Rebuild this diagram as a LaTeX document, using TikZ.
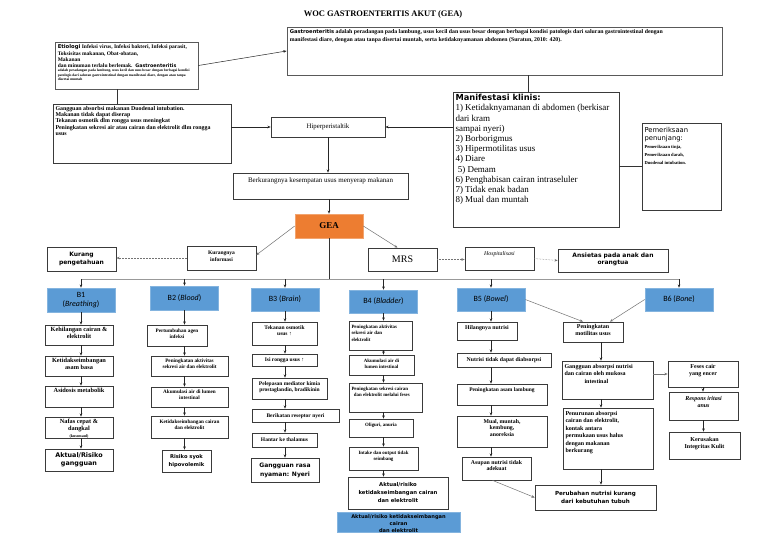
\documentclass[tikz,border=0pt]{standalone}
\usepackage{fontspec}
\setmainfont{Liberation Serif}
\setsansfont{Carlito}
\newfontfamily\dvs{DejaVu Sans}
\usetikzlibrary{arrows.meta}
\definecolor{geaor}{HTML}{ED7D31}
\definecolor{bblue}{HTML}{5B9BD5}
\definecolor{bdr}{HTML}{3A3A3A}
\newcommand{\fs}[2]{\fontsize{#1}{#2}\selectfont}
\newcommand{\tbx}[4]{\parbox[c][#2][t]{#1}{\centering\rule{0pt}{#3}#4\par}}
\newcommand{\tbl}[4]{\parbox[c][#2][t]{#1}{\raggedright\leftskip=2.5pt\rule{0pt}{#3}#4\par}}
\tikzset{
  bx/.style={draw=bdr, line width=0.7pt, fill=white, inner sep=0pt, align=center, font=\bfseries\fs{5.5}{6.5}},
  c1/.style={bx, font=\bfseries\fs{6.3}{6.8}},
  c2/.style={bx, font=\bfseries\fs{5.2}{6.3}},
  c3/.style={bx, font=\bfseries\fs{5.5}{6.5}},
  c4/.style={bx, font=\bfseries\fs{4.9}{6.6}},
  c5/.style={bx, font=\bfseries\fs{5.8}{6.8}},
  c6/.style={bx, font=\bfseries\fs{6}{7.4}},
  sb/.style={bx, font=\dvs\bfseries\fs{6}{7.4}},
  bl/.style={fill=bblue, draw=bblue!75!white, line width=0.6pt, inner sep=0pt, align=center, font=\sffamily\fs{8}{9.5}, minimum width=68pt, minimum height=23pt},
  ar/.style={-{Stealth[length=3.2pt,width=2.6pt]}, line width=0.5pt, draw=black!85},
  arg/.style={-{Stealth[length=3.2pt,width=2.6pt]}, line width=0.5pt, draw=black!55},
  ard/.style={arg, densely dotted},
  ln/.style={line width=0.6pt, draw=black!80},
}
\begin{document}
\begin{tikzpicture}[x=1pt,y=-1pt]
\fill[white] (0,0) rectangle (768,543);
\useasboundingbox (0,0) rectangle (768,543);

\node[inner sep=0pt, font=\bfseries\fs{8.5}{10}] (title) at (383,14) {WOC GASTROENTERITIS AKUT (GEA)};

% etiologi
\node[bx, minimum width=143pt, minimum height=47pt, line width=0.9pt, draw=black!65] (etio) at (126.5,65.5) {};
\begin{scope}
\clip (etio.north west) rectangle (etio.south east);
\node[anchor=north west, inner sep=0pt, font=\bfseries\fs{5.5}{6.3}] (etiot) at ([shift={(3pt,-3pt)}]etio.north west) {\parbox{137pt}{\raggedright{\dvs\fs{5.3}{6.3}Etiologi} Infeksi virus, Infeksi bakteri, Infeksi parasit, Toksisitas makanan, Obat-obatan,\\ Makanan\\ dan minuman terlalu berlemak.\ \ {\dvs\fs{4.8}{6.3}Gastroenteritis}\par {\fs{3.6}{4.3}adalah peradangan pada lambung, usus kecil dan usus besar dengan berbagai kondisi patologis dari saluran gastrointestinal dengan manifestasi diare, dengan atau tanpa disertai muntah\par}}};
\end{scope}

% top definition box
\node[bx, minimum width=435pt, minimum height=48pt, line width=0.9pt, draw=black!65] (top) at (504.5,51) {};
\node[anchor=north west, inner sep=0pt, font=\bfseries\fs{5.8}{7.6}] (topt) at ([shift={(3pt,-3pt)}]top.north west) {\parbox{429pt}{\raggedright{\dvs\fs{5.2}{7.6}Gastroenteritis} adalah peradangan pada lambung, usus kecil dan usus besar dengan berbagai kondisi patologis dari saluran gastrointestinal dengan\\ manifestasi diare, dengan atau tanpa disertai muntah, serta ketidaknyamanan abdomen (Suratun, 2010: 420).}};

% left patho box
\node[bx, font=\bfseries\fs{5.9}{6.2}] (left) at (142,133.5) {\tbl{178pt}{59pt}{6.5pt}{Gangguan absorbsi makanan Duodenal intubation.\\ Makanan tidak dapat diserap\\ Tekanan osmotik dlm rongga usus meningkat\\ Peningkatan sekresi air atau cairan dan elektrolit dlm rongga\\ usus}};

\node[bx, minimum width=114pt, minimum height=20pt, font=\fs{6.8}{8}] (hiper) at (328,127) {Hiperperistaltik};
\node[bx, font=\fs{7}{8}] (berk) at (320.5,186) {\tbx{175pt}{26pt}{9pt}{Berkurangnya kesempatan usus menyerap makanan}};

% manifestasi
\node[bx, font=\fs{9}{10.2}] (mani) at (536,159.5) {\tbl{166pt}{135pt}{8.6pt}{{\dvs\bfseries\fs{8.3}{10.2}Manifestasi klinis:}\\ 1) Ketidaknyamanan di abdomen (berkisar\\ dari kram\\ sampai nyeri)\\ 2) Borborigmus\\ 3) Hipermotilitas usus\\ 4) Diare\\ \ 5) Demam\\ 6) Penghabisan cairan intraseluler\\ 7) Tidak enak badan\\ 8) Mual dan muntah}};
\node[bx] (pem) at (681.5,166.5) {\tbl{79pt}{87pt}{9pt}{{\dvs\mdseries\fs{6.8}{8}Pemeriksaan\\ penunjang:\par}{\bfseries\fs{4.6}{8}Pemeriksaan tinja,\\ Pemeriksaan darah,\\ Duodenal intubation.\par}}};

% GEA row
\node[fill=geaor, draw=geaor!70!white, line width=0.6pt, minimum width=68pt, minimum height=24pt, inner sep=0pt, font=\bfseries\fs{9}{10}] (gea) at (329,226) {GEA};
\node[bx, font=\bfseries\fs{5.5}{7}] (kinfo) at (221.5,258) {\tbx{69pt}{24pt}{8pt}{Kurangnya\\ informasi}};
\node[sb, minimum width=69pt, minimum height=24pt] (kpeng) at (81.5,259) {Kurang\\ pengetahuan};
\node[bx, minimum width=69pt, minimum height=23pt, font=\fs{10}{11}] (mrs) at (402.5,259.5) {MRS};
\node[bx, font=\itshape\fs{5.8}{7}] (hosp) at (499.5,258.5) {\tbx{69pt}{23pt}{8pt}{Hospitalisasi}};
\node[sb] (ans) at (613,260.5) {\tbx{110pt}{23pt}{8pt}{Ansietas pada anak dan\\ orangtua}};

% B boxes
\node[bl, minimum height=24pt] (B1) at (81,300) {B1\\(\textit{Breathing})};
\node[bl, minimum height=24pt] (B2) at (184.5,298) {B2 (\textit{Blood})};
\node[bl] (B3) at (285,299.5) {B3 (\textit{Brain})};
\node[bl] (B4) at (383.5,301.5) {B4 (\textit{Bladder})};
\node[bl] (B5) at (491,299.5) {B5 (\textit{Bowel})};
\node[bl] (B6) at (679,299.5) {B6 (\textit{Bone})};

% B1 column
\node[c1] (b11) at (79,335) {\tbx{68pt}{20pt}{6.5pt}{Kehilangan cairan \&\\ elektrolit}};
\node[c1] (b12) at (79,366) {\tbx{68pt}{20pt}{6.5pt}{Ketidakseimbangan\\ asam basa}};
\node[c1] (b13) at (79,396.5) {\tbx{68pt}{21pt}{6.5pt}{Asidosis metabolik}};
\node[c1] (b14) at (79,427.5) {\tbx{68pt}{21pt}{6.5pt}{Nafas cepat \&\\ dangkal\\ {\fs{4}{5}(kussmaul)}}};
\node[sb, minimum width=68pt, minimum height=22pt, font=\dvs\bfseries\fs{6.4}{8.4}] (b15) at (79,460) {Aktual/Risiko\\ gangguan};

% B2 column
\node[c2] (b21) at (177,335.5) {\tbx{60pt}{21pt}{7pt}{Pertumbuhan agen\\ infeksi}};
\node[c2] (b22) at (189.5,366) {\tbx{77pt}{20pt}{6.5pt}{Peningkatan aktivitas\\ sekresi air dan elektrolit}};
\node[c2] (b23) at (189.5,397) {\tbx{77pt}{20pt}{6.5pt}{Akumulasi air di lumen\\ intestinal}};
\node[c2] (b24) at (189.5,427) {\tbx{77pt}{22pt}{7.5pt}{Ketidakseimbangan cairan\\ dan elektrolit}};
\node[sb, minimum width=49pt, minimum height=22pt, font=\dvs\bfseries\fs{5.2}{7.8}] (b25) at (186.5,461) {Risiko syok\\ hipovolemik};

% B3 column
\node[c3] (b31) at (284.5,333.5) {\tbx{65pt}{23pt}{7pt}{Tekanan osmotik\\ usus ↑}};
\node[c3] (b32) at (284.5,360) {\tbx{65pt}{12pt}{7.7pt}{Isi rongga usus ↑}};
\node[c3] (b33) at (289.5,388.5) {\tbx{75pt}{21pt}{7pt}{Pelepasan mediator kimia\\ prostaglandin, bradikinin}};
\node[c3] (b34) at (295.5,415.5) {\tbx{87pt}{13pt}{8.2pt}{Berikatan reseptor nyeri}};
\node[c3] (b35) at (284.5,440) {\tbx{65pt}{14pt}{8.7pt}{Hantar ke thalamus}};
\node[sb, minimum width=68pt, minimum height=24pt, font=\dvs\bfseries\fs{6}{9}] (b36) at (285,470) {Gangguan rasa\\ nyaman: Nyeri};

% B4 column
\node[c4] (b41) at (380.5,335.5) {\tbl{63pt}{29pt}{7pt}{Peningkatan aktivitas\\ sekresi air dan\\ elektrolit}};
\node[c4] (b42) at (381.5,365) {\tbx{65pt}{20pt}{7pt}{Akumulasi air di\\ lumen intestinal}};
\node[c4] (b43) at (385.5,397.5) {\tbl{73pt}{29pt}{7pt}{Peningkatan sekresi cairan\\ \ \ dan elektrolit melalui feses}};
\node[c4] (b44) at (381,428) {\tbx{64pt}{18pt}{7.5pt}{Oliguri, anuria}};
\node[c4] (b45) at (383.5,458.5) {\tbx{69pt}{23pt}{7pt}{Intake dan output tidak\\ seimbang}};
\node[sb, minimum width=100pt, minimum height=32pt, font=\dvs\bfseries\fs{5.3}{8}] (b46) at (398,493) {Aktual/risiko\\ ketidakseimbangan cairan\\ dan elektrolit};
\node[bl, minimum width=123pt, minimum height=20pt] (b47) at (398.5,522) {};
\begin{scope}
\clip (b47.north west) rectangle (b47.south east);
\node[anchor=north, inner sep=0pt, align=center, font=\dvs\bfseries\fs{5.1}{7.2}] (b47t) at ([yshift=-2.5pt]b47.north) {Aktual/risiko ketidakseimbangan\\ cairan\\ dan elektrolit};
\end{scope}

% B5 column
\node[c5] (b51) at (487,331) {\tbx{60pt}{18pt}{7pt}{Hilangnya nutrisi}};
\node[c5] (b52) at (504,360) {\tbx{94pt}{14pt}{8pt}{Nutrisi tidak dapat diabsorpsi}};
\node[c3] (b53) at (502,394.5) {\tbx{90pt}{21pt}{7pt}{Peningkatan asam lambung}};
\node[c5] (b54) at (502,431.5) {\tbx{90pt}{31pt}{7pt}{Mual, muntah,\\ kembung,\\ anoreksia}};
\node[c5] (b55) at (496.5,468.5) {\tbx{69pt}{23pt}{7pt}{Asupan nutrisi tidak\\ adekuat}};

% middle / B6 column
\node[c6] (b61) at (593,332) {\tbx{60pt}{20pt}{6.5pt}{Peningkatan\\ motilitas usus}};
\node[c6] (b62) at (607.5,380) {\tbl{91pt}{38pt}{7.5pt}{Gangguan absorpsi nutrisi\\ dan cairan oleh mukosa\\ \hspace*{20pt}intestinal}};
\node[c6] (b63) at (608,438.5) {\tbl{90pt}{61pt}{7.5pt}{Penurunan absorpsi\\ cairan dan elektrolit,\\ kontak antara\\ permukaan usus halus\\ dengan makanan\\ berkurang}};
\node[sb, minimum width=121pt, minimum height=25pt, font=\dvs\bfseries\fs{5.6}{8}] (b64) at (595.5,497.5) {Perubahan nutrisi kurang\\ dari kebutuhan tubuh};
\node[c6] (b65) at (703,374) {\tbx{70pt}{26pt}{7.5pt}{Feses cair\\ yang encer}};
\node[c6, font=\bfseries\itshape\fs{6}{7.4}] (b66) at (703.5,406) {\tbx{69pt}{28pt}{8pt}{Respons iritasi\\ anus}};
\node[c6] (b67) at (704.5,445.5) {\tbx{71pt}{27pt}{9pt}{Kerusakan\\ Integritas Kulit}};

% upper connectors
\draw[ar] (etio.east) -- (top.west);
\coordinate (e1) at ([xshift=-9.5pt]etio.south);
\draw[ln] (e1) -- (e1 |- left.north);
\coordinate (t1) at ([xshift=23.5pt]top.south);
\draw[ln] (t1) -- (t1 |- mani.north);
\draw[ar] (left.east |- hiper.west) -- (hiper.west);
\draw[ar] (mani.west |- hiper.east) -- (hiper.east);
\draw[ar] (hiper.south) -- (hiper.south |- berk.north);
\draw[ar] (gea.north |- berk.south) -- (gea.north);
\draw[ln] (mani.east |- pem.west) -- (pem.west);

% GEA row connectors
\draw[arg] (gea.west) -- ([yshift=3pt]kinfo.east);
\draw[ard] (kinfo.west) -- (kinfo.west -| kpeng.east);
\draw[arg] (gea.east) -- ([xshift=-5pt]mrs.north);
\draw[ard] (mrs.east) -- (mrs.east -| hosp.west);
\draw[ard] (hosp.east) -- (ans.west);

% bus
\coordinate (busy) at (0,279);
\draw[ln] (gea.south) -- (gea.south |- busy);
\draw[line width=0.9pt, draw=black!40] (B1.north |- busy) -- (B6.north |- busy);
\foreach \b in {B1,B2,B3,B4,B5,B6} \draw[ar] (\b.north |- busy) -- (\b.north);

% column arrows
\foreach \a/\b in {B1/b11,b11/b12,b12/b13,b13/b14,b14/b15} \draw[ar] (\a.south -| B1.south) -- (\b.north -| B1.south);
\foreach \a/\b in {B2/b21,b21/b22,b22/b23,b23/b24,b24/b25} \draw[ar] (\a.south -| B2.south) -- (\b.north -| B2.south);
\foreach \a/\b in {B3/b31,b31/b32,b32/b33,b33/b34,b34/b35,b35/b36} \draw[ar] (\a.south -| B3.south) -- (\b.north -| B3.south);
\foreach \a/\b in {B4/b41,b41/b42,b42/b43,b43/b44,b44/b45,b45/b46} \draw[ar] (\a.south -| B4.south) -- (\b.north -| B4.south);
\foreach \a/\b in {B5/b51,b51/b52,b52/b53,b53/b54,b54/b55} \draw[ar] (\a.south -| B5.south) -- (\b.north -| B5.south);
\coordinate (mc) at (601,0);
\foreach \a/\b in {b61/b62,b62/b63,b63/b64} \draw[ar] (\a.south -| mc) -- (\b.north -| mc);
\foreach \a/\b in {b65/b66,b66/b67} \draw[ar] (\a.south) -- (\a.south |- \b.north);
\draw[arg] (B5.east) -- ([xshift=-10pt]b61.north);
\draw[arg] (B6.west) -- ([xshift=17pt]b61.north);
\draw[arg] (b62.east |- b65.west) -- (b65.west);
\draw[arg] ([xshift=-4pt]b55.south) -- (b64.west);
\end{tikzpicture}
\end{document}
